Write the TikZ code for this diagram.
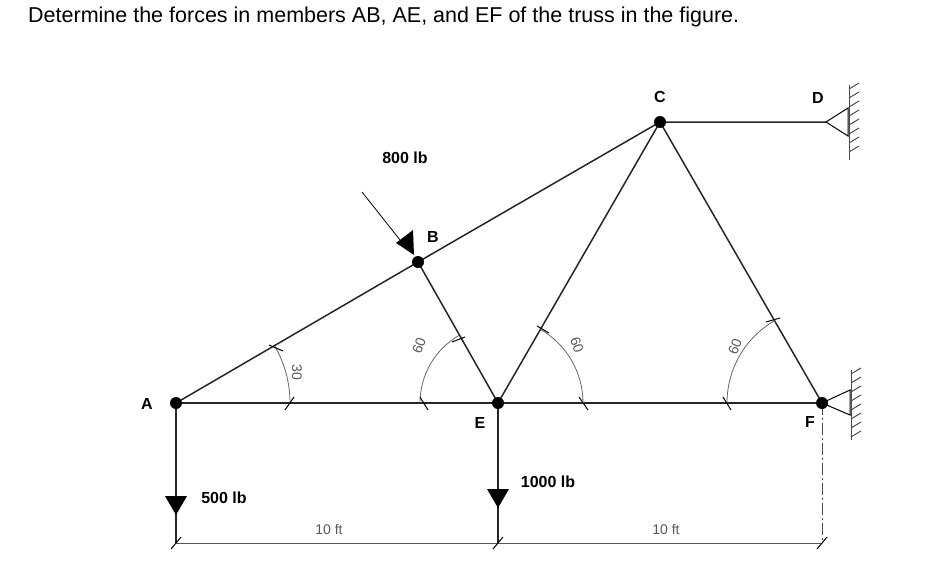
\documentclass[tikz,border=0pt]{standalone}
\usepackage{fontspec}
\setmainfont{Liberation Sans}
\usetikzlibrary{calc}
\begin{document}
\begin{tikzpicture}[x=1pt,y=-1pt,
  mem/.style={line width=1.5pt,black!85},
  jt/.style={circle,fill=black,inner sep=0pt,minimum size=12pt},
  lbl/.style={font=\bfseries\fontsize{16}{16}\selectfont},
  ang/.style={gray!80!black,line width=0.8pt},
  angt/.style={font=\fontsize{14}{14}\selectfont,text=gray!70!black,inner sep=1pt},
  tick/.style={line width=1pt},
  hatch/.style={line width=1pt,gray!60!black}]
\useasboundingbox (0,0) rectangle (934,562);
\node[anchor=base west,font=\fontsize{21.5}{22}\selectfont,inner sep=0pt] (title) at (28,22) {Determine the forces in members AB, AE, and EF of the truss in the figure.};
\coordinate (A) at (176,403);
\coordinate (B) at (418,262);
\coordinate (E) at (498,403);
\coordinate (C) at (660,122);
\coordinate (D) at (826,122);
\coordinate (F) at (822,403);
% members
\draw[mem] (A)--(B)--(C)--(D);
\draw[mem] (A)--(F);
\draw[mem] (B)--(E)--(C)--(F);
% loads
\draw[mem] (A)--(176,543);
\draw[mem] (E)--(498,543);
\fill (165,496)--(187,496)--(176,515)--cycle;
\fill (487,489)--(509,489)--(498,508)--cycle;
\draw[line width=0.8pt] (362,192)--(408,250);
\fill (414,255)--(396,243)--(413,230)--cycle;
% dimension
\draw[line width=0.8pt,gray!70!black] (176,543)--(822,543);
\draw[line width=1pt,gray!60!black,dash pattern=on 12pt off 3pt on 2pt off 3pt] (F)--(822,543);
\foreach \x in {176,498,822} \draw[tick] (\x-5,549)--(\x+5,537);
\node[angt] (d1) at (329,529) {10 ft};
\node[angt] (d2) at (666,529) {10 ft};
% angle arcs
\draw[ang] (A)++(0:114) arc (0:-30:114);
\draw[tick] (285,410)--(294,397);
\draw[tick] (269,345)--(283,351);
\node[angt,rotate=-90] (a30) at (297,372) {30};
\draw[ang] (E)++(180:78) arc (180:240:78);
\draw[tick] (420,397)--(428,410);
\draw[tick] (452,342)--(465,337);
\node[angt,rotate=70] (a60a) at (419,346) {60};
\draw[ang] (E)++(0:85) arc (0:-60:85);
\draw[tick] (579,397)--(588,410);
\draw[tick] (537,326)--(549,333);
\node[angt,rotate=-70] (a60b) at (577,345) {60};
\draw[ang] (F)++(180:95) arc (180:240:95);
\draw[tick] (723,397)--(731,410);
\draw[tick] (766,322)--(780,318);
\node[angt,rotate=70] (a60c) at (735,347) {60};
% supports
\draw[line width=1pt] (D)--(848,108)--(848,136)--cycle;
\draw[hatch] (849,85)--(849,160);
\foreach \y in {89,98,...,160} \draw[hatch] (849,\y)--(859,\y-6);
\draw[line width=1pt] (F)--(850,390)--(850,415)--cycle;
\draw[hatch] (851,370)--(851,440);
\foreach \y in {374,383,...,440} \draw[hatch] (851,\y)--(861,\y-6);
% joints
\foreach \p in {A,B,E,C,F} \node[jt] at (\p) {};
% labels
\node[lbl] (lA) at (147,404) {A};
\node[lbl] (lB) at (433,237) {B};
\node[lbl] (lC) at (660,97) {C};
\node[lbl] (lD) at (818,98) {D};
\node[lbl] (lE) at (480,423) {E};
\node[lbl] (lF) at (810,422) {F};
\node[lbl] (l800) at (405,158) {800 lb};
\node[lbl] (l500) at (224,498) {500 lb};
\node[lbl] (l1000) at (548,482) {1000 lb};
\end{tikzpicture}
\end{document}
